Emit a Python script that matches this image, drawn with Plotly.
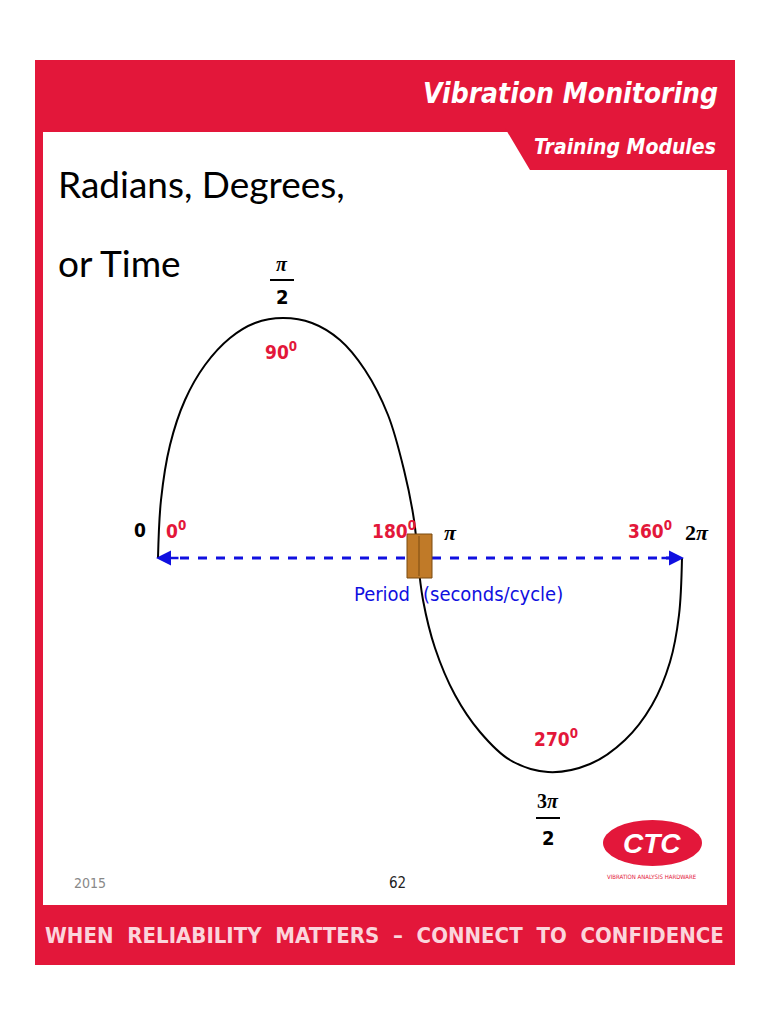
import plotly.graph_objects as go

# curve points (pixel coordinates of the slide)
upper_x = [158, 161, 170, 185, 205, 230, 255, 283, 312, 340, 365, 388, 404, 414, 418]
upper_y = [558, 500, 445, 400, 365, 338, 323, 318, 323, 340, 370, 415, 470, 520, 560]
lower_x = [418, 423, 435, 455, 480, 510, 548, 590, 625, 652, 670, 679, 682]
lower_y = [560, 600, 648, 695, 732, 760, 772, 764, 740, 705, 662, 615, 558]
period_x = [162, 678]
period_y = [558, 558]

RED = "#e3173a"
COND = "DejaVu Sans Condensed, Liberation Sans"
fig = go.Figure()

shapes = [
    dict(type="rect", x0=35, y0=60, x1=735, y1=965, fillcolor=RED, line=dict(width=0), layer="below"),
    dict(type="rect", x0=43, y0=132, x1=727, y1=905, fillcolor="white", line=dict(width=0), layer="below"),
    dict(type="path", path="M 505,128 L 727,128 L 727,170 L 530,170 Z", fillcolor=RED, line=dict(width=0), layer="below"),
    dict(type="line", x0=270, y0=280, x1=294, y1=280, line=dict(color="black", width=2)),
    dict(type="line", x0=536, y0=818, x1=560, y1=818, line=dict(color="black", width=2)),
    dict(type="rect", x0=407, y0=534, x1=432, y1=578, fillcolor="#c07a28", line=dict(color="#7a4a10", width=1)),
    dict(type="line", x0=419, y0=536, x1=419, y1=576, line=dict(color="#7a4a10", width=1)),
    dict(type="circle", x0=603, y0=820, x1=702, y1=866, fillcolor=RED, line=dict(width=0)),
]

fig.add_trace(go.Scatter(x=upper_x, y=upper_y, mode="lines", line=dict(color="black", width=2, shape="spline"), hoverinfo="skip"))
fig.add_trace(go.Scatter(x=lower_x, y=lower_y, mode="lines", line=dict(color="black", width=2, shape="spline"), hoverinfo="skip"))
fig.add_trace(go.Scatter(x=period_x, y=period_y, mode="lines", line=dict(color="#1010e0", width=3, dash="dash"), hoverinfo="skip"))

ann = []
def txt(x, y, t, size=18, color="black", family="Liberation Sans", bold=False, xanchor="center"):
    if bold:
        t = "<b>" + t + "</b>"
    ann.append(dict(x=x, y=y, text=t, showarrow=False, xanchor=xanchor, yanchor="middle",
                    font=dict(size=size, color=color, family=family)))

# arrowheads at both ends of the period line
for xe, xs in [(156, 180), (684, 660)]:
    ann.append(dict(x=xe, y=558, ax=xs, ay=558, axref="x", ayref="y", text="", showarrow=True,
                    arrowhead=2, arrowsize=1.2, arrowwidth=2.5, arrowcolor="#1010e0"))

txt(56, 183, "Radians, Degrees,", 37, family="Lato", xanchor="left")
txt(56, 262, "or Time", 37, family="Lato", xanchor="left")
txt(720, 93, "<i>Vibration Monitoring</i>", 28, "white", COND, True, xanchor="right")
txt(718, 147, "<i>Training Modules</i>", 21, "white", COND, True, xanchor="right")

txt(282, 264, "<i>π</i>", 20, family="Liberation Serif", bold=True)
txt(282, 297, "2", 20, "black", COND, True)
txt(281, 351, "90<sup>0</sup>", 19, RED, COND, True)
txt(140, 530, "0", 19, "black", COND, True)
txt(176, 530, "0<sup>0</sup>", 19, RED, COND, True)
txt(394, 530, "180<sup>0</sup>", 19, RED, COND, True)
txt(450, 532, "<i>π</i>", 22, family="Liberation Serif", bold=True)
txt(650, 530, "360<sup>0</sup>", 19, RED, COND, True)
txt(697, 532, "2<i>π</i>", 22, family="Liberation Serif", bold=True)
txt(382, 594, "Period", 20, "#1010e0", COND)
txt(493, 594, "(seconds/cycle)", 20, "#1010e0", COND)
txt(556, 738, "270<sup>0</sup>", 19, RED, COND, True)
txt(548, 801, "3<i>π</i>", 20, family="Liberation Serif", bold=True)
txt(548, 838, "2", 20, "black", COND, True)
txt(652, 843, "<i>CTC</i>", 28, "white", "Liberation Sans", True)
txt(652, 876, "VIBRATION ANALYSIS HARDWARE", 6, RED, COND)
txt(90, 883, "2015", 14, "#888888", COND)
txt(397, 883, "62", 15, "#222222", COND)
txt(384, 935, "WHEN  RELIABILITY  MATTERS  –  CONNECT  TO  CONFIDENCE", 22, "#fbd5dc", COND, True)

fig.update_layout(
    width=768, height=1024, margin=dict(l=0, r=0, t=0, b=0),
    paper_bgcolor="white", plot_bgcolor="white", showlegend=False,
    xaxis=dict(range=[8, 776], visible=False, fixedrange=True),
    yaxis=dict(range=[1032, 8], visible=False, fixedrange=True),
    shapes=shapes, annotations=ann,
)
fig.write_html("out.html")
